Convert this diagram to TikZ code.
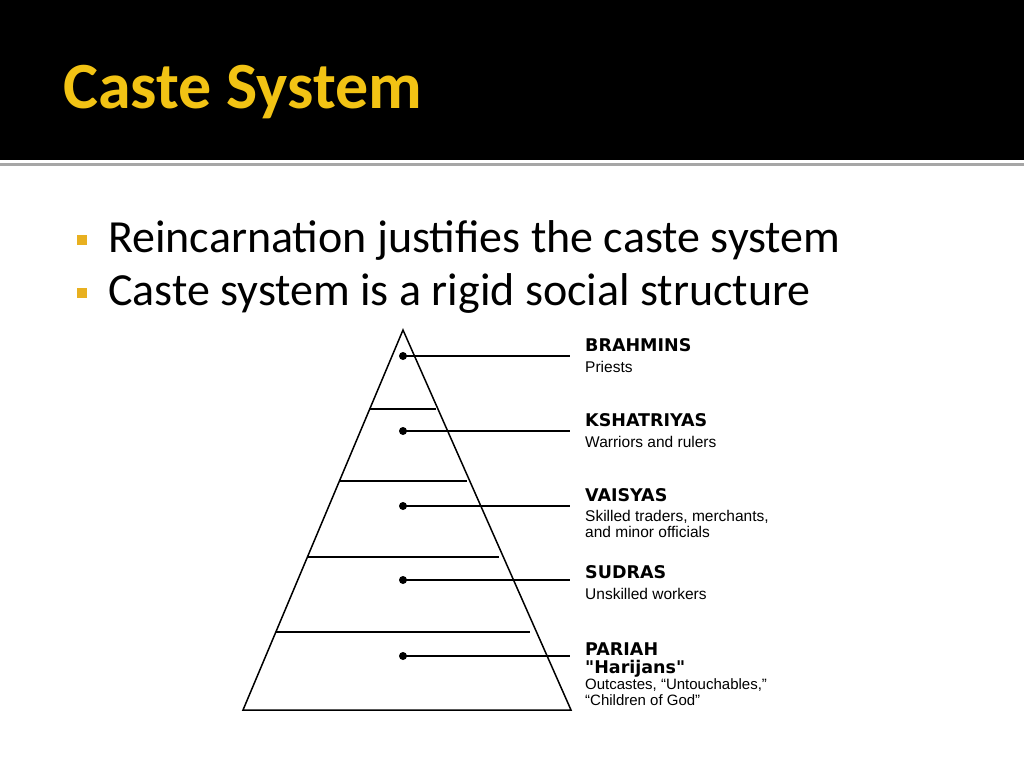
\documentclass[tikz,border=0pt]{standalone}
\usepackage{fontspec}
\setmainfont{Carlito}
\newfontfamily\labfont{Liberation Sans}
\newfontfamily\headfont{DejaVu Sans}
\definecolor{ttl}{HTML}{F2C314}
\definecolor{bul}{HTML}{E8B020}
\begin{document}
\begin{tikzpicture}[x=1pt,y=-1pt,
  head/.style={anchor=base west,font=\headfont\bfseries\fontsize{17.5}{19}\selectfont,inner sep=0},
  sub/.style={anchor=base west,font=\labfont\fontsize{15.5}{16.5}\selectfont,inner sep=0,align=left},
  bullet/.style={anchor=base west,font=\fontsize{46}{48}\selectfont,inner sep=0},
  sq/.style={fill=bul,minimum size=10pt,inner sep=0},
  dot/.style={circle,fill=black,inner sep=0,minimum size=8pt},
  ln/.style={line width=1.5pt}]
\useasboundingbox (0,0) rectangle (1024,768);
\fill[black] (0,0) rectangle (1024,160);
\fill[gray!70] (0,163) rectangle (1024,166);
\node[anchor=base west,inner sep=0,text=ttl,font=\bfseries\fontsize{66}{68}\selectfont] (title) at (63,108) {Caste System};
\node[sq] (b1) at (82,240) {};
\node[bullet] (t1) at (108,252) {Reincarnation justifies the caste system};
\node[sq] (b2) at (82,293) {};
\node[bullet] (t2) at (108,305) {Caste system is a rigid social structure};
% pyramid
\coordinate (apex) at (403,330);
\coordinate (bl) at (243,710);
\coordinate (br) at (571,710);
\draw[ln,line join=miter] (apex) -- (bl) -- (br) -- cycle;
\foreach \y/\n in {409/a,481/b,557/c,632/d}{
  \pgfmathsetmacro\dx{(\y-330)/380*160}
  \coordinate (l\n) at (403-\dx,\y);
  \coordinate (r\n) at (403+\dx,\y);
  \draw[ln] (l\n) -- (r\n);
}
\foreach \y/\n in {356/1,431/2,506/3,580/4,656/5}{
  \node[dot] (d\n) at (403,\y) {};
  \coordinate (e\n) at (570,\y);
  \draw[ln] (d\n.center) -- (e\n);
}
\node[head] (h1) at (585,351) {BRAHMINS};
\node[sub] (s1) at (585,372) {Priests};
\node[head] (h2) at (585,426) {KSHATRIYAS};
\node[sub] (s2) at (585,447) {Warriors and rulers};
\node[head] (h3) at (585,501) {VAISYAS};
\node[sub,anchor=north west] (s3) at (585,510) {Skilled traders, merchants,\\and minor officials};
\node[head] (h4) at (585,578) {SUDRAS};
\node[sub] (s4) at (585,599) {Unskilled workers};
\node[head] (h5) at (585,655) {PARIAH};
\node[head] (h5b) at (585,673) {"Harijans"};
\node[sub,anchor=north west,font=\labfont\fontsize{15}{16}\selectfont] (s5) at (585,678) {Outcastes, “Untouchables,”\\“Children of God”};
\end{tikzpicture}
\end{document}
